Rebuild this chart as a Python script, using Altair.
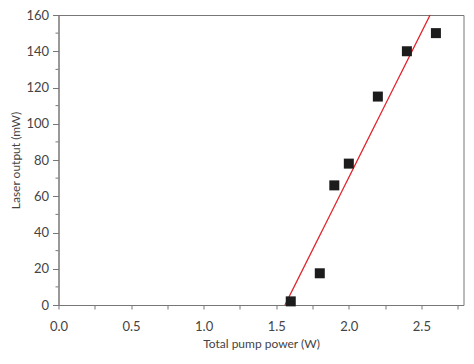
import altair as alt
import pandas as pd

# Measured data
pump_power = [1.6, 1.8, 1.9, 2.0, 2.2, 2.4, 2.6]
laser_output = [2, 17.5, 66, 78, 115, 140, 150]

# Linear fit line (endpoints)
fit_x = [1.56, 2.56]
fit_y = [0, 160]

x_ticks = [0, 0.25, 0.5, 0.75, 1.0, 1.25, 1.5, 1.75, 2.0, 2.25, 2.5, 2.75]
y_major = [0, 20, 40, 60, 80, 100, 120, 140, 160]
y_minor = [10, 30, 50, 70, 90, 110, 130, 150]

pts = pd.DataFrame({"x": pump_power, "y": laser_output})
fit = pd.DataFrame({"x": fit_x, "y": fit_y})
minor = pd.DataFrame({"y": y_minor})

font = "Lato"
axis_col = "#777777"
text_col = "#444444"

x_scale = alt.Scale(domain=[0, 2.79], nice=False, zero=False)
y_scale = alt.Scale(domain=[0, 160], nice=False)

x_enc = alt.X(
    "x:Q",
    scale=x_scale,
    axis=alt.Axis(
        title="Total pump power (W)",
        values=x_ticks,
        tickCount=100,
        labelExpr="(round(datum.value*100) % 50 === 0) ? format(datum.value, '.1f') : ''",
        labelOverlap=False,
        labelFlush=False,
        tickSize=4,
        labelPadding=11,
        titlePadding=5,
        grid=False,
    ),
)
y_enc = alt.Y(
    "y:Q",
    scale=y_scale,
    axis=alt.Axis(
        title="Laser output (mW)",
        values=y_major,
        tickCount=100,
        labelOverlap=False,
        labelFlush=False,
        tickSize=6,
        labelPadding=4,
        titleX=-36,
        grid=False,
    ),
)

line = alt.Chart(fit).mark_line(color="#e3222b", strokeWidth=1.3).encode(x=x_enc, y=y_enc)
points = alt.Chart(pts).mark_point(
    shape="square", filled=True, size=100, color="#1c1c1c", opacity=1
).encode(x=x_enc, y=y_enc)
minor_ticks = alt.Chart(minor).mark_rule(color=axis_col, strokeWidth=1).encode(
    y=alt.Y("y:Q", scale=y_scale), x=alt.value(-3), x2=alt.value(0)
)

chart = (
    alt.layer(line, points, minor_ticks)
    .properties(
        width=405,
        height=290,
        autosize=alt.AutoSizeParams(type="none"),
        padding={"left": 50.5, "top": 7, "right": 2, "bottom": 48},
    )
    .configure_view(stroke=axis_col, strokeWidth=1, clip=False)
    .configure_axis(
        domainColor=axis_col,
        tickColor=axis_col,
        labelColor=text_col,
        titleColor=text_col,
        labelFont=font,
        titleFont=font,
        labelFontSize=13,
        titleFontSize=12,
        titleFontWeight="normal",
    )
)

chart.save("out.html", embed_options={"renderer": "svg", "actions": False})
